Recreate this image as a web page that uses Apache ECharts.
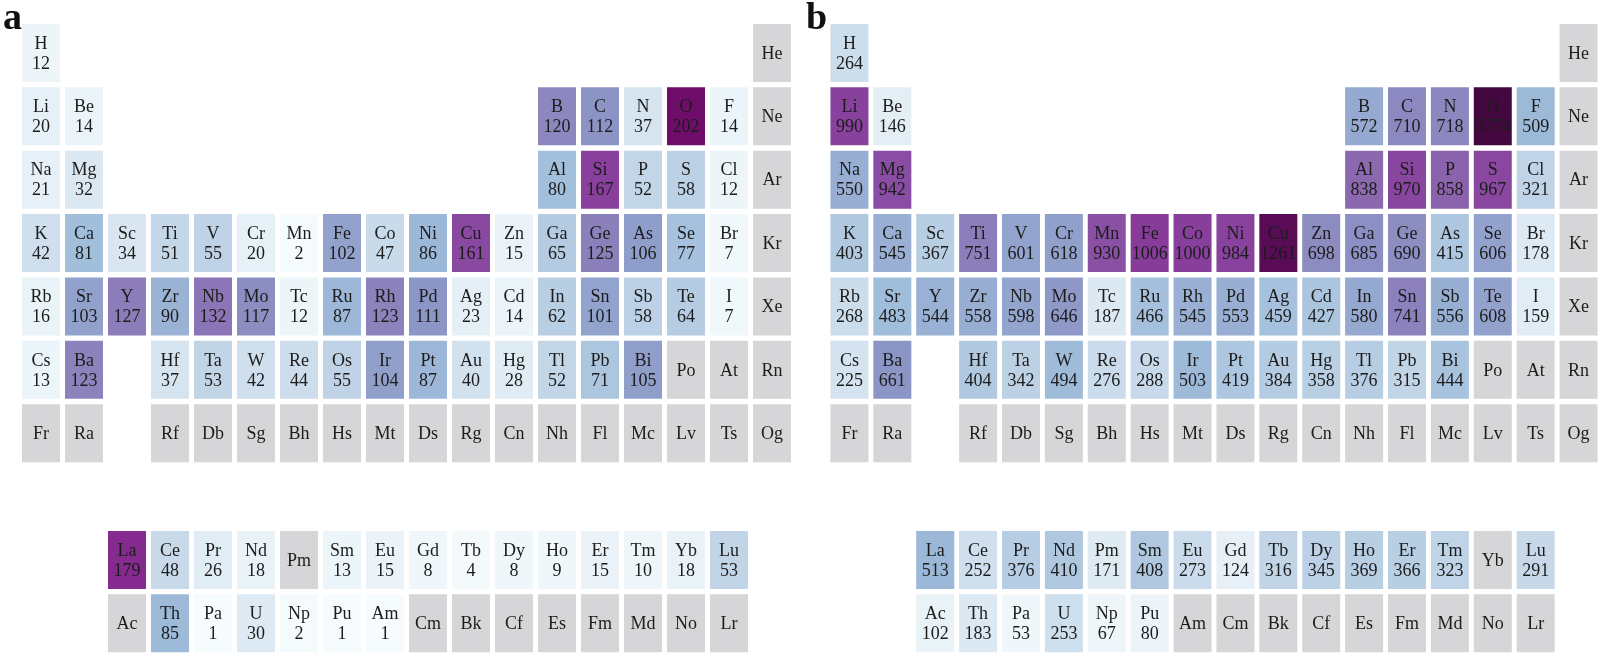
<!DOCTYPE html>
<html>
<head>
<meta charset="utf-8">
<script src="https://cdn.jsdelivr.net/npm/echarts@6/dist/echarts.min.js"></script>
<style>
  html, body { margin: 0; padding: 0; background: #fff; }
  #chart { width: 1600px; height: 655px; }
</style>
</head>
<body>
<div id="chart"></div>
<script>
// 周期表布局（每行18列，空位为空字符串）
var tableRows = [
    'H,,,,,,,,,,,,,,,,,He',
    'Li,Be,,,,,,,,,,,B,C,N,O,F,Ne',
    'Na,Mg,,,,,,,,,,,Al,Si,P,S,Cl,Ar',
    'K,Ca,Sc,Ti,V,Cr,Mn,Fe,Co,Ni,Cu,Zn,Ga,Ge,As,Se,Br,Kr',
    'Rb,Sr,Y,Zr,Nb,Mo,Tc,Ru,Rh,Pd,Ag,Cd,In,Sn,Sb,Te,I,Xe',
    'Cs,Ba,,Hf,Ta,W,Re,Os,Ir,Pt,Au,Hg,Tl,Pb,Bi,Po,At,Rn',
    'Fr,Ra,,Rf,Db,Sg,Bh,Hs,Mt,Ds,Rg,Cn,Nh,Fl,Mc,Lv,Ts,Og',
    ',,,,,,,,,,,,,,,,,',
    ',,La,Ce,Pr,Nd,Pm,Sm,Eu,Gd,Tb,Dy,Ho,Er,Tm,Yb,Lu,',
    ',,Ac,Th,Pa,U,Np,Pu,Am,Cm,Bk,Cf,Es,Fm,Md,No,Lr,'
];

// 图a的数值（按每行元素顺序，null为无数据）
var countsA = [
    [12, null],
    [20, 14, 120, 112, 37, 202, 14, null],
    [21, 32, 80, 167, 52, 58, 12, null],
    [42, 81, 34, 51, 55, 20, 2, 102, 47, 86, 161, 15, 65, 125, 106, 77, 7, null],
    [16, 103, 127, 90, 132, 117, 12, 87, 123, 111, 23, 14, 62, 101, 58, 64, 7, null],
    [13, 123, 37, 53, 42, 44, 55, 104, 87, 40, 28, 52, 71, 105, null, null, null],
    [null, null, null, null, null, null, null, null, null, null, null, null, null, null, null, null],
    [],
    [179, 48, 26, 18, null, 13, 15, 8, 4, 8, 9, 15, 10, 18, 53],
    [null, 85, 1, 30, 2, 1, 1, null, null, null, null, null, null, null, null]
];

// 图b的数值
var countsB = [
    [264, null],
    [990, 146, 572, 710, 718, 3774, 509, null],
    [550, 942, 838, 970, 858, 967, 321, null],
    [403, 545, 367, 751, 601, 618, 930, 1006, 1000, 984, 1261, 698, 685, 690, 415, 606, 178, null],
    [268, 483, 544, 558, 598, 646, 187, 466, 545, 553, 459, 427, 580, 741, 556, 608, 159, null],
    [225, 661, 404, 342, 494, 276, 288, 503, 419, 384, 358, 376, 315, 444, null, null, null],
    [null, null, null, null, null, null, null, null, null, null, null, null, null, null, null, null],
    [],
    [513, 252, 376, 410, 171, 408, 273, 124, 316, 345, 369, 366, 323, null, 291],
    [102, 183, 53, 253, 67, 80, null, null, null, null, null, null, null, null, null]
];

var colIndex = [];
for (var i = 0; i < 18; i++) { colIndex.push(String(i + 1)); }
var rowIndex = [];
for (var i = 0; i < 10; i++) { rowIndex.push(String(i + 1)); }

var colorScale = ['#f7fcfd', '#e0ecf4', '#bfd3e6', '#9ebcda', '#8c96c6', '#8c6bb1', '#88419d', '#810f7c', '#42083f'];
var grayColor = '#d6d6d8';
var textColor = '#1c1c1c';
var cellFont = '18px "Liberation Serif", "DejaVu Serif", serif';

//把布局和数值拆成有值/无值两组
function buildCells(counts) {
    var withValue = [];
    var noValue = [];
    for (var r = 0; r < tableRows.length; r++) {
        var syms = tableRows[r].split(',');
        var k = 0;
        for (var c = 0; c < syms.length; c++) {
            if (!syms[c]) continue;
            var v = counts[r][k];
            k++;
            if (v === null || v === undefined) {
                noValue.push({ name: syms[c], value: [c, r] });
            } else {
                withValue.push({ name: syms[c], value: [c, r, v] });
            }
        }
    }
    return { withValue: withValue, noValue: noValue };
}

var cellsA = buildCells(countsA);
var cellsB = buildCells(countsB);

function makeRender(list, showValue) {
    return function (params, api) {
        var p = api.coord([api.value(0), api.value(1)]);
        var item = list[params.dataIndex];
        var children = [{
            type: 'rect',
            shape: { x: p[0] - 19, y: p[1] - 29, width: 38, height: 58 },
            style: { fill: showValue ? api.visual('color') : grayColor }
        }];
        if (showValue) {
            children.push({
                type: 'text', x: p[0], y: p[1] - 9,
                style: { text: item.name, font: cellFont, fill: textColor, align: 'center', verticalAlign: 'middle' }
            });
            children.push({
                type: 'text', x: p[0], y: p[1] + 11,
                style: { text: String(item.value[2]), font: cellFont, fill: textColor, align: 'center', verticalAlign: 'middle' }
            });
        } else {
            children.push({
                type: 'text', x: p[0], y: p[1] + 1,
                style: { text: item.name, font: cellFont, fill: textColor, align: 'center', verticalAlign: 'middle' }
            });
        }
        return { type: 'group', children: children };
    };
}

var myChart = echarts.init(document.getElementById('chart'));

var option = {
    backgroundColor: '#ffffff',
    animation: false,
    grid: [
        { left: 19.5, top: 21.25, width: 774, height: 635 },
        { left: 828, top: 21.25, width: 774, height: 635 }
    ],
    xAxis: [
        { type: 'category', gridIndex: 0, data: colIndex, show: false },
        { type: 'category', gridIndex: 1, data: colIndex, show: false }
    ],
    yAxis: [
        { type: 'category', gridIndex: 0, data: rowIndex, inverse: true, show: false },
        { type: 'category', gridIndex: 1, data: rowIndex, inverse: true, show: false }
    ],
    visualMap: [
        { type: 'continuous', show: false, seriesIndex: 0, dimension: 2, min: 0, max: 222, inRange: { color: colorScale } },
        { type: 'continuous', show: false, seriesIndex: 2, dimension: 2, min: 0, max: 1320, inRange: { color: colorScale } }
    ],
    graphic: [
        { type: 'text', x: 3, y: 19, style: { text: 'a', font: 'bold 38px "Liberation Serif", serif', fill: '#111', verticalAlign: 'middle' } },
        { type: 'text', x: 806, y: 19, style: { text: 'b', font: 'bold 38px "Liberation Serif", serif', fill: '#111', verticalAlign: 'middle' } }
    ],
    series: [
        { type: 'custom', xAxisIndex: 0, yAxisIndex: 0, data: cellsA.withValue, renderItem: makeRender(cellsA.withValue, true) },
        { type: 'custom', xAxisIndex: 0, yAxisIndex: 0, data: cellsA.noValue, renderItem: makeRender(cellsA.noValue, false) },
        { type: 'custom', xAxisIndex: 1, yAxisIndex: 1, data: cellsB.withValue, renderItem: makeRender(cellsB.withValue, true) },
        { type: 'custom', xAxisIndex: 1, yAxisIndex: 1, data: cellsB.noValue, renderItem: makeRender(cellsB.noValue, false) }
    ]
};

myChart.setOption(option);
</script>
</body>
</html>
